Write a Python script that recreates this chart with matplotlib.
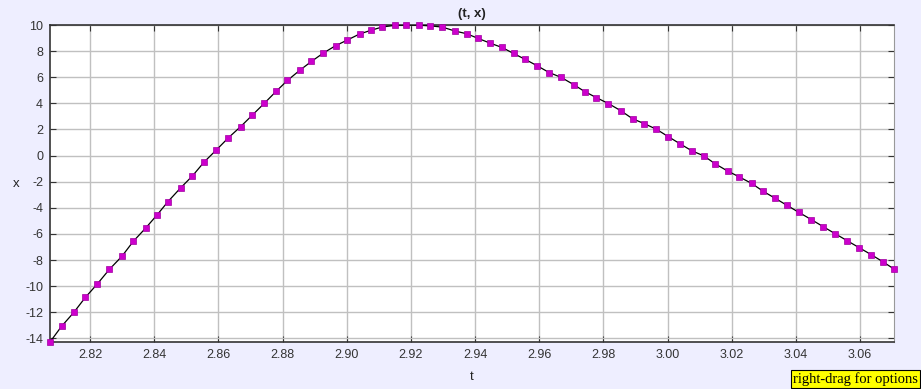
import matplotlib
matplotlib.use("Agg")
import matplotlib.pyplot as plt, numpy as np

t = [2.8075, 2.8111, 2.8149, 2.8185, 2.8223, 2.8260, 2.8299, 2.8335, 2.8373, 2.8409,
     2.8443, 2.8482, 2.8519, 2.8556, 2.8594, 2.8631, 2.8669, 2.8705, 2.8743, 2.8780,
     2.8815, 2.8853, 2.8890, 2.8927, 2.8965, 2.9002, 2.9040, 2.9075, 2.9111, 2.9149,
     2.9185, 2.9224, 2.9261, 2.9298, 2.9337, 2.9374, 2.9409, 2.9446, 2.9484, 2.9520,
     2.9557, 2.9594, 2.9631, 2.9669, 2.9707, 2.9742, 2.9778, 2.9816, 2.9854, 2.9891,
     2.9928, 2.9965, 3.0003, 3.0039, 3.0076, 3.0113, 3.0149, 3.0187, 3.0224, 3.0262,
     3.0299, 3.0336, 3.0373, 3.0410, 3.0448, 3.0485, 3.0522, 3.0560, 3.0597, 3.0635,
     3.0671, 3.0706]
x = [-14.28, -13.08, -12.02, -10.87, -9.82, -8.72, -7.72, -6.56, -5.56, -4.54,
     -3.52, -2.48, -1.56, -0.48, 0.44, 1.36, 2.21, 3.08, 4.00, 4.92,
     5.75, 6.52, 7.21, 7.85, 8.41, 8.85, 9.31, 9.59, 9.85, 9.97,
     10.00, 9.99, 9.93, 9.84, 9.54, 9.33, 8.98, 8.62, 8.28, 7.82,
     7.36, 6.87, 6.36, 5.98, 5.44, 4.90, 4.44, 3.98, 3.44, 2.82,
     2.44, 2.02, 1.44, 0.90, 0.36, -0.02, -0.64, -1.18, -1.64, -2.13,
     -2.75, -3.28, -3.82, -4.36, -4.90, -5.44, -5.98, -6.52, -7.05, -7.59,
     -8.13, -8.69]

xticks = [2.82, 2.84, 2.86, 2.88, 2.90, 2.92, 2.94, 2.96, 2.98, 3.00, 3.02, 3.04, 3.06]
yticks = [-14, -12, -10, -8, -6, -4, -2, 0, 2, 4, 6, 8, 10]

plt.rcParams['font.family'] = ['Liberation Sans', 'DejaVu Sans']
plt.rcParams['axes.unicode_minus'] = False

fig = plt.figure(figsize=(9.21, 3.89), dpi=100, facecolor='#eeeeff')
ax = fig.add_axes([50/921, 1 - 342/389, 844/921, 317/389])
ax.set_facecolor('white')

ax.plot(t, x, color='black', lw=0.9, zorder=3)
ax.plot(t, x, ls='none', marker='s', ms=4.3, mfc='#cc00cc', mec='#a000a0', mew=0.5,
        zorder=4, clip_on=False)

ax.set_xlim(min(t), max(t))
ax.set_ylim(min(x), max(x))
ax.set_xticks(xticks)
ax.set_xticklabels(['%.2f' % v for v in xticks])
ax.set_yticks(yticks)
ax.grid(True, color='#c0c0c0', lw=1)
ax.set_axisbelow(True)
ax.tick_params(direction='in', length=4, top=True, right=True, pad=5,
               labelsize=9, labelcolor='#333333', color='#333333')
for s in ['left', 'bottom', 'top']:
    ax.spines[s].set_color('#333333')
    ax.spines[s].set_linewidth(1.2)
ax.spines['right'].set_color('#999999')

ax.set_title('(t, x)', fontsize=9.5, fontweight='bold', color='#222222', pad=6)
ax.set_xlabel('t', fontsize=9.5, color='#222222')
ax.xaxis.set_label_coords(0.5, -0.09)
ax.set_ylabel('x', fontsize=9.5, color='#222222', rotation=0, va='center', ha='center')
ax.yaxis.set_label_coords(-0.04, 0.5)

fig.text(918/921, 1 - 379/389, 'right-drag for options', ha='right', va='center',
         fontsize=10.5, family='Liberation Serif', color='black',
         bbox=dict(boxstyle='square,pad=0.12', fc='#ffff00', ec='black', lw=0.8))

fig.savefig('out.png', dpi=100, facecolor=fig.get_facecolor())
